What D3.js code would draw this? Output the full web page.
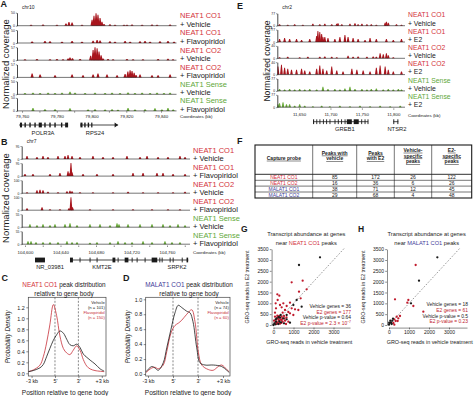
<!DOCTYPE html>
<html><head><meta charset="utf-8">
<script src="https://cdn.jsdelivr.net/npm/d3@7"></script>
<style>body{margin:0;background:#fff}svg{display:block}text{font-family:'Liberation Sans',Arial,Helvetica,sans-serif}</style>
</head><body><script>
// ---------------- DATA ----------------
// Panel A (chr10) coverage peaks: [coordinate kb, normalized coverage]
const A_PROBES = ["NEAT1 CO1","NEAT1 CO1","NEAT1 CO2","NEAT1 CO2","NEAT1 Sense","NEAT1 Sense"];
const A_CONDS = ["+ Vehicle","+ Flavopiridol","+ Vehicle","+ Flavopiridol","+ Vehicle","+ Flavopiridol"];
const A_MAX = [50,50,57,57,50,50];
const A_TICKS = [79760,79770,79780,79790,79800,79810,79820,79830,79840];
const A_TICK_LABELS = [79760,79780,79800,79820,79840];
const A1 = [[79765.2,4],[79772.1,5],[79780.1,4],[79785.3,8],[79787,14],[79788.8,12],[79794.5,4],[79800.3,23],[79801.4,38],[79802.6,48],[79803.7,42],[79804.9,30],[79806,15],[79807.2,7],[79810.6,6],[79813.5,4],[79818.7,4],[79820.4,4],[79823.3,5],[79829.1,4],[79834.8,5],[79837.7,4],[79845.2,5]];
const A2 = [[79765.8,6],[79773.2,8],[79776.1,7],[79783,5],[79788.8,8],[79794.5,5],[79800.9,9],[79803.2,12],[79804.9,10],[79810.6,7],[79813.5,5],[79819.3,8],[79822.2,5],[79827.9,7],[79830.8,8],[79833.7,5],[79839.4,7],[79844,8],[79847.5,5]];
const A3 = [[79761.7,4],[79768.6,5],[79776.1,4],[79780.1,5],[79783.6,4],[79786.5,8],[79787.6,12],[79789,9],[79793.4,5],[79799.5,20],[79800.9,45],[79802,57],[79803.2,52],[79804.3,38],[79805.5,22],[79806.6,8],[79809.5,5],[79812.4,4],[79820.4,5],[79823.9,4],[79829.6,4],[79838.3,5],[79844,6],[79846.9,4]];
const A4 = [[79765.8,17],[79770.4,13],[79779,9],[79788.8,13],[79795.1,9],[79800.9,13],[79803.7,17],[79808.9,13],[79814.7,9],[79819.3,15],[79820.9,26],[79822.2,31],[79823.3,28],[79824.5,20],[79825.6,10],[79827.9,13],[79834.8,9],[79838.3,9],[79845.2,13]];
const A5 = [[79761.7,5],[79766.3,6],[79770.4,5],[79775,6],[79779,5],[79783,6],[79787.6,10],[79790.5,6],[79796.3,5],[79802,6],[79807.8,5],[79811.8,6],[79816.4,5],[79821,7],[79825,5],[79829.1,6],[79833.7,5],[79837.7,6],[79841.7,5],[79845.2,6]];
const A6 = [[79766.3,11],[79773.2,6],[79779,6],[79787.6,10],[79798,5],[79802,6],[79807.8,5],[79811.8,6],[79815.2,4],[79821,11],[79825,5],[79830.8,6],[79836.5,10],[79840.5,5],[79844,11],[79847,5]];
const A_PEAKS = [A1,A2,A3,A4,A5,A6];
const A_GENES = [
  {name:"POLR3A", start:79758.3, end:79786.5, labelAt:79772.1, arrow:null,
   exons:[[79758.8,79760],[79761.4,79762.2],[79764.2,79765],[79767.1,79767.9],[79769.6,79771.4],[79772.8,79773.6],[79775.7,79776.5],[79778.6,79779.4],[79782.4,79783.2],[79784.8,79786.5]]},
  {name:"RPS24", start:79793.4, end:79815.3, labelAt:79802, arrow:79815.3,
   exons:[[79793.6,79794.8],[79795.8,79796.6],[79797.8,79798.6],[79799.8,79800.5]]}
];
// Panel B (chr7)
const B_PROBES = A_PROBES;
const B_CONDS = A_CONDS;
const B_MAX = [95,95,100,100,55,55];
const B_TICKS = [104600,104620,104640,104660,104680,104700,104720,104740,104760,104780];
const B_TICK_LABELS = [104600,104640,104680,104720,104760];
const B1 = [[104602.3,22],[104613.5,15],[104620.3,22],[104625.9,15],[104637.2,22],[104645.1,22],[104648.5,29],[104653,22],[104662,15],[104676.6,22],[104687.9,15],[104699.2,15],[104714.9,22],[104729.6,15],[104737.5,22],[104749.9,15],[104761.1,15],[104774.6,22],[104780.3,15]];
const B2 = [[104600,15],[104609,15],[104628.2,15],[104639.4,22],[104648.5,36],[104650.7,22],[104651.8,95],[104653,29],[104665.4,15],[104681.1,15],[104699.2,15],[104721.7,22],[104733,22],[104748.7,22],[104755.5,22],[104766.8,15],[104780.3,15]];
const B3 = [[104602.3,8],[104613.5,23],[104616.9,27],[104620.3,23],[104625.9,12],[104637.2,8],[104647.3,15],[104650.7,19],[104653,15],[104662,8],[104676.6,8],[104699.2,8],[104716.1,12],[104733,8],[104749.9,8],[104766.8,8],[104780.3,12]];
const B4 = [[104602.3,15],[104619.2,23],[104628.2,8],[104639.4,8],[104649.6,15],[104651.8,100],[104653.5,23],[104673.2,8],[104699.2,8],[104721.7,8],[104743.1,8],[104761.1,8],[104774.6,8]];
const B5 = [[104605.6,13],[104613.5,8],[104620.3,13],[104628.2,8],[104633.8,13],[104645.1,13],[104650.7,17],[104658.6,8],[104673.2,13],[104684.5,13],[104695.8,8],[104703.7,17],[104705.9,13],[104716.1,13],[104729.6,13],[104743.1,13],[104755.5,13],[104763.4,8],[104772.4,13],[104780.3,8]];
const B6 = [[104603.4,13],[104606.8,13],[104612.4,8],[104620.3,8],[104628.2,8],[104637.2,8],[104647.3,13],[104653,8],[104658.6,8],[104673.2,6],[104681.1,8],[104695.8,8],[104704.8,13],[104712.7,8],[104720.6,8],[104733,13],[104743.1,8],[104757.7,13],[104765.6,8],[104774.6,8]];
const B_PEAKS = [B1,B2,B3,B4,B5,B6];
const B_GENES = [
  {name:"NR_03981", start:104611.3, end:104622.5, labelAt:104628.2, arrow:null, exons:[[104611.3,104622.5]]},
  {name:"KMT2E", start:104650.7, end:104752, labelAt:104686.8, arrow:null,
   exons:[[104650.7,104654],[104661.5,104662.3],[104672.8,104673.6],[104680.7,104681.5],[104698.6,104701.8],[104704.4,104705.2],[104712.3,104716.5],[104720.2,104721],[104725.8,104726.6],[104734.8,104735.6],[104742.7,104749],[104751.4,104752.4]]},
  {name:"SRPK2", start:104752, end:104784, labelAt:104771.3, arrow:null,
   exons:[[104754,104754.8],[104763,104763.8],[104766.4,104767.2],[104776.6,104777.4],[104782,104783.8]]}
];
// Panel E (chr2)
const E_PROBES = A_PROBES;
const E_CONDS = ["+ Vehicle","+ E2","+ Vehicle","+ E2","+ Vehicle","+ E2"];
const E_MAX = [77,77,40,40,77,77];
const E_TICKS = [11650,11700,11750,11800];
const E_TICK_LABELS = [11650,11700,11750,11800];
const E1 = [[11619,9],[11632,6],[11643,9],[11656,6],[11672,12],[11683,9],[11691,12],[11702,9],[11710,12],[11712,15],[11718,9],[11731,12],[11739,15],[11744,9],[11750,12],[11758,9],[11765,9],[11773,6],[11787,19],[11789,25],[11792,19],[11805,9],[11813,6]];
const E2 = [[11619,19],[11627,25],[11635,19],[11646,19],[11654,12],[11667,19],[11678,37],[11680,68],[11683,62],[11686,50],[11688,31],[11691,31],[11696,25],[11707,19],[11715,31],[11723,43],[11728,31],[11736,25],[11744,19],[11755,12],[11763,25],[11773,19],[11789,19],[11800,12],[11813,19]];
const E3 = [[11619,3],[11632,5],[11651,3],[11664,5],[11683,5],[11691,6],[11702,5],[11710,3],[11728,8],[11736,5],[11744,6],[11758,5],[11768,6],[11773,5],[11779,16],[11784,13],[11789,16],[11792,10],[11800,3]];
const E4 = [[11616.5,26],[11622,32],[11627,22],[11632,19],[11638,16],[11646,16],[11654,19],[11659,13],[11667,10],[11678,19],[11683,29],[11688,19],[11694,13],[11702,26],[11710,13],[11720,10],[11734,19],[11742,16],[11752,13],[11763,10],[11773,22],[11779,29],[11787,26],[11792,16],[11800,10],[11813,10]];
const E5 = [[11619,12],[11627,9],[11635,12],[11643,9],[11651,12],[11659,9],[11667,12],[11678,9],[11688,25],[11696,12],[11707,12],[11715,9],[11723,15],[11731,25],[11739,12],[11750,12],[11758,9],[11765,12],[11773,15],[11784,9],[11792,12],[11800,9],[11808,12],[11813,9]];
const E6 = [[11616.5,19],[11619,25],[11624.5,31],[11630,19],[11635,19],[11643,9],[11651,19],[11659,9],[11672,6],[11686,9],[11699,6],[11715,9],[11731,6],[11747,9],[11763,6],[11779,9],[11795,6],[11811,9]];
const E_PEAKS = [E1,E2,E3,E4,E5,E6];
const E_GENES = [
  {name:"GREB1", start:11672.3, end:11760, labelAt:11722.9, arrow:null,
   exons:[[11672.3,11674],[11677.5,11678.5],[11682.5,11683.5],[11688,11689],[11693.2,11694.2],[11698.5,11699.5],[11706.5,11707.5],[11711.7,11712.7],[11717,11718],[11722.5,11723.5],[11726,11734],[11737,11745],[11749,11750],[11754.3,11755.3],[11759,11760]]},
  {name:"NTSR2", start:11800, end:11808, labelAt:11805.8, arrow:null, exons:[[11800,11801.5],[11806.5,11808]]}
];
// Panels C, D: density curves [position (0=-3kb,1=5',2=3',3=+3kb), density]
const POS_LABELS = ["-3 kb","5'","3'","+3 kb"];
const C_VEHICLE = [[-0.14,0.03],[0.07,0.05],[0.36,0.1],[0.5,0.16],[0.64,0.3],[0.78,0.45],[0.93,0.6],[1.07,0.7],[1.21,0.77],[1.36,0.73],[1.5,0.62],[1.64,0.52],[1.78,0.5],[1.93,0.53],[2.07,0.47],[2.21,0.35],[2.36,0.29],[2.5,0.24],[2.71,0.17],[2.93,0.08],[3.1,0.04]];
const C_FLAVO = [[-0.14,0.03],[0.07,0.06],[0.36,0.15],[0.5,0.3],[0.64,0.55],[0.78,0.88],[0.93,1.25],[1.07,1.05],[1.21,0.68],[1.36,0.45],[1.5,0.37],[1.64,0.34],[1.78,0.42],[1.93,0.5],[2.07,0.42],[2.21,0.25],[2.36,0.13],[2.5,0.08],[2.71,0.05],[3.1,0.03]];
const D_VEHICLE = [[-0.08,0.03],[0.15,0.1],[0.28,0.08],[0.41,0.05],[0.61,0.15],[0.75,0.35],[0.92,0.6],[1.08,0.82],[1.21,0.92],[1.35,0.89],[1.55,0.84],[1.68,0.82],[1.8,0.7],[1.95,0.35],[2.08,0.15],[2.28,0.12],[2.61,0.12],[2.95,0.1],[3.15,0.05],[3.25,0.02]];
const D_FLAVO = [[-0.08,0.02],[0.15,0.08],[0.28,0.09],[0.41,0.07],[0.61,0.12],[0.75,0.3],[0.92,0.55],[1.08,0.65],[1.21,0.68],[1.35,0.72],[1.55,0.8],[1.75,0.86],[1.88,0.7],[2.01,0.3],[2.15,0.12],[2.41,0.06],[2.61,0.05],[2.81,0.1],[2.95,0.12],[3.15,0.06],[3.25,0.03]];
const C_N = ["(n = 101)","(n = 150)"];
const D_N = ["(n = 74)","(n = 60)"];
// Panel F table
const F_HEADERS = [["Capture probe"],["Peaks with","vehicle"],["Peaks","with E2"],["Vehicle-","specific","peaks"],["E2-","specific","peaks"]];
const F_PROBES = ["NEAT1 CO1","NEAT1 CO2","MALAT1 CO1","MALAT1 CO2"];
const F_VEH = [85,16,38,29];
const F_E2 = [172,36,71,68];
const F_VEH_SPEC = [26,6,12,4];
const F_E2_SPEC = [122,26,45,48];
// Panels G, H: [GRO-seq vehicle, GRO-seq E2]
const G_BLACK = [[2325,3124],[1275,2769],[992,923],[1158,1154],[658,462],[158,308],[325,338],[492,308],[125,154],[292,169],[375,123],[42,77],[92,31],[242,46],[0,0],[358,462],[658,262],[525,77],[825,108],[108,262],[258,369],[1408,846]];
const G_RED = [[908,1969],[1458,2046],[1275,1538],[1658,1646],[192,1415],[292,1354],[108,1000],[208,1154],[825,1031],[658,877],[408,815],[575,692],[742,600],[1242,692],[1358,1231],[908,769],[492,1000],[325,923],[992,462],[825,538],[458,569],[75,385],[242,262],[408,231],[575,200],[208,108],[458,154],[158,46],[325,62],[192,431],[292,415],[742,154],[625,46],[25,200],[408,385],[525,415],[1075,723],[75,569],[125,769],[150,150],[250,300],[350,250],[450,300],[300,100],[200,350],[120,250],[400,100],[550,300],[650,350],[100,120],[280,200]];
const H_BLACK = [[2417,3124],[1500,2046],[1100,1000],[167,200],[100,123],[33,77],[133,46],[0,15],[67,200],[200,292],[10,108]];
const H_RED = [[1333,2769],[300,1185],[967,1154],[917,1031],[1217,877],[1717,615],[383,385],[467,308],[267,262],[333,185],[217,92],[550,415],[433,185],[267,15]];
const SCATTER_TICKS_X = [0,1000,2000,3000];
const SCATTER_TICKS_Y = [0,500,1000,1500,2000,2500,3000,3500];
const G_STATS = ["Vehicle genes = 36","E2 genes = 177","Vehicle p-value = 0.64","E2 p-value = 2.3 × 10"];
const H_STATS = ["Vehicle genes = 18","E2 genes = 61","Vehicle p-value = 0.5","E2 p-value = 0.23"];

// ---------------- DRAWING ----------------
const RED_TXT = "#d3313b", RED_FILL = "#a8151d", GREEN_TXT = "#62a83a", GREEN_FILL = "#6aaa3a", BLUE = "#3f3c99", INK = "#1a1a1a";
const svg = d3.select("body").append("svg").attr("width",474).attr("height",396);

function text(x, y, s, o = {}) {
  const size = o.size || 6;
  const t = svg.append("text").attr("x", x).attr("y", y + size * 0.35)
    .attr("font-size", size).attr("fill", o.fill || INK).attr("text-anchor", o.anchor || "start");
  if (o.weight) t.attr("font-weight", o.weight);
  if (o.style) t.attr("font-style", o.style);
  if (o.deco) t.attr("text-decoration", o.deco);
  if (o.rotate) t.attr("transform", `rotate(-90,${x},${y})`);
  t.text(s);
  return t;
}
function rich(x, y, parts, o = {}) {
  const size = o.size || 6;
  const t = svg.append("text").attr("x", x).attr("y", y + size * 0.35)
    .attr("font-size", size).attr("text-anchor", o.anchor || "start");
  parts.forEach(p => t.append("tspan").attr("fill", p[1] || INK).text(p[0]));
  return t;
}
function styleAxis(ax, fs) {
  ax.attr("font-family", null).attr("font-size", null);
  ax.selectAll("text").attr("font-size", fs).attr("fill", INK);
  ax.selectAll("line,path").attr("stroke", INK).attr("stroke-width", 0.5);
}

function trackPanel(P) {
  const x = d3.scaleLinear().domain(P.domain).range([P.x0, P.x1]);
  const line = d3.line();
  P.peaks.forEach((pk, i) => {
    const tb = P.baselines[i];
    const y = d3.scaleLinear().domain([0, P.max[i]]).range([tb, tb - P.h]);
    const sense = P.probes[i].includes("Sense");
    const g = svg.append("g");
    g.selectAll("path").data(pk).join("path")
      .attr("d", d => line([[d[0] - P.w, 0], [d[0] - P.w * 0.3, d[1]], [d[0] + P.w * 0.3, d[1]], [d[0] + P.w, 0]]
        .map(p => [Math.max(P.x0, Math.min(P.x1, x(p[0]))), y(p[1])])) + "Z")
      .attr("fill", sense ? GREEN_FILL : RED_FILL);
    g.append("line").attr("x1", P.x0).attr("x2", P.x1).attr("y1", tb).attr("y2", tb)
      .attr("stroke", INK).attr("stroke-width", 0.6);
    const ax = g.append("g").attr("transform", `translate(${P.x0},0)`)
      .call(d3.axisLeft(y).tickValues([0, P.max[i]]).tickSize(1.2).tickSizeOuter(0).tickPadding(1).tickFormat(d3.format("d")));
    styleAxis(ax, 3.4);
    ax.select(".domain").attr("stroke-width", 0.8);
    text(P.labelX, tb + P.probeDy, P.probes[i], {size: P.fs, fill: sense ? GREEN_TXT : RED_TXT});
    text(P.labelX, tb + P.condDy, P.conds[i], {size: P.fs});
  });
  const ax = svg.append("g").attr("transform", `translate(0,${P.axisY})`)
    .call(d3.axisBottom(x).tickValues(P.ticks).tickSize(1.5).tickPadding(P.pad)
      .tickFormat(d => P.tickLabels.includes(d) ? d3.format(",")(d) : ""));
  ax.select(".domain").remove();
  styleAxis(ax, 4.4);
  text(P.labelX, P.coordY, "Coordinates (kb)", {size: 4.4});
  text(P.x0 + 5, P.chrY, P.chr, {size: 5});
  text(P.ylabX, P.ylabY, "Normalized coverage", {size: P.ylabFs, anchor: "middle", rotate: true});
  P.genes.forEach(gn => {
    svg.append("line").attr("x1", x(gn.start)).attr("x2", x(gn.end)).attr("y1", P.geneY).attr("y2", P.geneY)
      .attr("stroke", INK).attr("stroke-width", 0.8);
    svg.append("g").selectAll("rect").data(gn.exons).join("rect")
      .attr("x", d => x(d[0])).attr("width", d => Math.max(0.9, x(d[1]) - x(d[0])))
      .attr("y", P.geneY - 2.4).attr("height", 4.8).attr("fill", INK);
    if (gn.arrow) {
      const ax0 = x(gn.arrow);
      svg.append("path").attr("d", `M${ax0 - 3.5},${P.geneY - 2.6}L${ax0},${P.geneY}L${ax0 - 3.5},${P.geneY + 2.6}Z`).attr("fill", INK);
    }
    text(x(gn.labelAt), P.geneLabelY, gn.name, {size: 5.8, anchor: "middle"});
  });
}

trackPanel({domain:[79757.1,79848.9], x0:17, x1:176.5, baselines:[25.7,43,60.2,77.4,94.3,110.9], h:13,
  peaks:A_PEAKS, max:A_MAX, probes:A_PROBES, conds:A_CONDS, w:0.9, labelX:180, probeDy:-10.2, condDy:-1.6, fs:7.5,
  ticks:A_TICKS, tickLabels:A_TICK_LABELS, axisY:111.2, pad:2.3, coordY:116.5, chr:"chr10", chrY:6.8,
  ylabX:5.5, ylabY:64, ylabFs:9.5, genes:A_GENES, geneY:125, geneLabelY:133.3});
trackPanel({domain:[104596.3,104785.9], x0:21.7, x1:190, baselines:[159,176.1,193.2,210.2,227.2,244.2], h:13,
  peaks:B_PEAKS, max:B_MAX, probes:B_PROBES, conds:B_CONDS, w:1.6, labelX:193, probeDy:-9.1, condDy:-0.5, fs:7.5,
  ticks:B_TICKS, tickLabels:B_TICK_LABELS, axisY:245.5, pad:3.5, coordY:252, chr:"chr7", chrY:141,
  ylabX:5.5, ylabY:198, ylabFs:9.5, genes:B_GENES, geneY:260, geneLabelY:267});
trackPanel({domain:[11615.4,11818.6], x0:277.3, x1:405, baselines:[25.7,42,58.3,74.6,90.9,107.2], h:12.4,
  peaks:E_PEAKS, max:E_MAX, probes:E_PROBES, conds:E_CONDS, w:2.2, labelX:408, probeDy:-10.6, condDy:-2.5, fs:6.8,
  ticks:E_TICKS, tickLabels:E_TICK_LABELS, axisY:108.3, pad:3.3, coordY:115, chr:"chr2", chrY:7,
  ylabX:267, ylabY:61, ylabFs:8.6, genes:E_GENES, geneY:121.7, geneLabelY:128.5});

function density(P) {
  const x = d3.scaleLinear().domain(P.xdom).range([P.left, P.right]);
  const y = d3.scaleLinear().domain(P.ydom).range([P.bottom, P.top]);
  [1, 2].forEach(v => svg.append("line").attr("x1", x(v)).attr("x2", x(v)).attr("y1", P.top).attr("y2", P.bottom)
    .attr("stroke", "#555").attr("stroke-width", 0.7).attr("stroke-dasharray", "2,1.5"));
  const ln = d3.line().x(d => x(d[0])).y(d => y(d[1])).curve(d3.curveCatmullRom.alpha(0.5));
  svg.append("path").attr("d", ln(P.flavo)).attr("fill", "none").attr("stroke", "#c8303a").attr("stroke-width", 0.8);
  svg.append("path").attr("d", ln(P.veh)).attr("fill", "none").attr("stroke", "#1c1c1c").attr("stroke-width", 0.8);
  svg.append("rect").attr("x", P.left).attr("y", P.top).attr("width", P.right - P.left).attr("height", P.bottom - P.top)
    .attr("fill", "none").attr("stroke", "#444").attr("stroke-width", 0.7);
  const ay = svg.append("g").attr("transform", `translate(${P.left},0)`)
    .call(d3.axisLeft(y).tickValues(P.yticks).tickFormat(d3.format(".1f")).tickSize(2).tickPadding(1.5));
  ay.select(".domain").remove(); styleAxis(ay, 5.4);
  const axx = svg.append("g").attr("transform", `translate(0,${P.bottom})`)
    .call(d3.axisBottom(x).tickValues([0, 1, 2, 3]).tickFormat(i => POS_LABELS[i]).tickSize(2).tickPadding(1.5));
  axx.select(".domain").remove(); styleAxis(axx, 5.4);
  rich(P.titleX, 285, [[P.probe, P.probeColor], [" peak distribution"]], {size: 6.4, anchor: "middle"});
  text(P.titleX, 293.3, "relative to gene body", {size: 6.4, anchor: "middle"});
  text(P.xlabX, 392.5, "Position relative to gene body", {size: 6.6, anchor: "middle"});
  text(P.ylabX, 336.7, "Probability Density", {size: 6.4, anchor: "middle", rotate: true, style: "italic"});
  const lx = P.right - 1.2;
  text(lx, 302.3, "Vehicle", {size: 4.2, anchor: "end"});
  text(lx, 307.6, P.n[0], {size: 4.2, anchor: "end"});
  text(lx, 312.8, "Flavopiridol", {size: 4.2, anchor: "end", fill: "#c8303a"});
  text(lx, 318, P.n[1], {size: 4.2, anchor: "end", fill: "#c8303a"});
}
density({xdom:[-0.14,3.18], ydom:[-0.049,1.382], left:28.3, right:106, top:297.3, bottom:376,
  yticks:[0,0.2,0.4,0.6,0.8,1.0,1.2], veh:C_VEHICLE, flavo:C_FLAVO, probe:"NEAT1 CO1", probeColor:RED_TXT,
  titleX:64, xlabX:65, ylabX:8, n:C_N});
density({xdom:[-0.092,3.28], ydom:[-0.027,1.027], left:145.7, right:230, top:297.3, bottom:376,
  yticks:[0,0.2,0.4,0.6,0.8,1.0], veh:D_VEHICLE, flavo:D_FLAVO, probe:"MALAT1 CO1", probeColor:BLUE,
  titleX:189, xlabX:188, ylabX:128, n:D_N});

(function table() {
  const cx = [255, 312.7, 356.7, 394.3, 431.7, 471.7];
  const ry = [145, 174.3, 180.3, 186.1, 192, 198];
  const g = svg.append("g");
  cx.slice(1, -1).forEach(v => g.append("line").attr("x1", v).attr("x2", v).attr("y1", ry[0]).attr("y2", ry[5]).attr("stroke", INK).attr("stroke-width", 0.6));
  ry.slice(1, -1).forEach(v => g.append("line").attr("x1", cx[0]).attr("x2", cx[5]).attr("y1", v).attr("y2", v).attr("stroke", INK).attr("stroke-width", v === ry[1] ? 0.9 : 0.6));
  g.append("rect").attr("x", cx[0]).attr("y", ry[0]).attr("width", cx[5] - cx[0]).attr("height", ry[5] - ry[0])
    .attr("fill", "none").attr("stroke", INK).attr("stroke-width", 1.1);
  F_HEADERS.forEach((lines, c) => {
    const mid = (cx[c] + cx[c + 1]) / 2;
    const c0 = lines.length === 1 ? 158 : 155.8;
    lines.forEach((s, k) => text(mid, c0 + (k - (lines.length - 1) / 2) * 5.8, s, {size: 5.0, anchor: "middle", weight: "bold", deco: "underline"}));
  });
  const cols = [F_PROBES, F_VEH, F_E2, F_VEH_SPEC, F_E2_SPEC];
  F_PROBES.forEach((p, r) => {
    const cy = (ry[r + 1] + ry[r + 2]) / 2;
    cols.forEach((col, c) => {
      const mid = (cx[c] + cx[c + 1]) / 2;
      const fill = c === 0 ? (p.startsWith("NEAT1") ? RED_TXT : BLUE) : INK;
      text(mid, cy, String(col[r]), {size: 5.0, anchor: "middle", fill});
    });
  });
})();

function scatter(P) {
  const x = d3.scaleLinear().domain([0, 1000]).range([P.x0, P.x0 + 20]);
  const y = d3.scaleLinear().domain([0, 1000]).range([325, 325 - 21.67]);
  const top = 247, right = P.right;
  svg.append("line").attr("x1", x(0)).attr("y1", y(0)).attr("x2", x(y.invert(top) * 0.985)).attr("y2", y(y.invert(top) * 0.985))
    .attr("stroke", "#555").attr("stroke-width", 0.6).attr("stroke-dasharray", "1.6,1.6");
  svg.append("g").selectAll("circle").data(P.red).join("circle")
    .attr("cx", d => x(d[0])).attr("cy", d => y(d[1])).attr("r", 1.15).attr("fill", "#c01a2c");
  svg.append("g").selectAll("circle").data(P.black).join("circle")
    .attr("cx", d => x(d[0])).attr("cy", d => y(d[1])).attr("r", 1.15).attr("fill", "#1a1a1a");
  const yAxScale = y.copy().domain([0, 3500]).range([y(0), y(3500)]);
  const ay = svg.append("g").attr("transform", `translate(${P.yAxisX},0)`)
    .call(d3.axisLeft(yAxScale).tickValues(SCATTER_TICKS_Y).tickSize(1.8).tickSizeOuter(0).tickPadding(1.2).tickFormat(d3.format("d")));
  styleAxis(ay, 5);
  const xAxScale = d3.scaleLinear().domain([x.invert(P.x0 - 0.5), x.invert(right)]).range([P.x0 - 0.5, right]);
  const ax = svg.append("g").attr("transform", `translate(0,327.6)`)
    .call(d3.axisBottom(xAxScale).tickValues(SCATTER_TICKS_X).tickSize(1.8).tickSizeOuter(0).tickPadding(0.8).tickFormat(d3.format("d")));
  styleAxis(ax, 5);
  text(P.letterX, 229.3, P.letter, {size: 8.5, weight: "bold"});
  text(P.titleX, 234.3, "Transcript abundance at genes", {size: 5.7, anchor: "middle"});
  rich(P.titleX, 242.7, [["near "], [P.probe, P.probeColor], [" peaks"]], {size: 5.7, anchor: "middle"});
  text(P.titleX + 3, 342, "GRO-seq reads in vehicle treatment", {size: 5.4, anchor: "middle"});
  text(P.yLabX, 287, "GRO-seq reads in E2 treatment", {size: 5.2, anchor: "middle", rotate: true});
  const cols = [INK, "#c01a2c", INK, "#c01a2c"];
  P.stats.forEach((s, k) => {
    const t = text(P.statX, P.statY[k], s, {size: 4.9, anchor: "end", fill: cols[k]});
    if (P.sup && k === 3) t.append("tspan").attr("font-size", 3.4).attr("dy", -1.8).text("−7");
  });
}
scatter({x0:273.5, right:350, yAxisX:271.6, red:G_RED, black:G_BLACK, letter:"G", letterX:241, titleX:306.3,
  probe:"NEAT1 CO1", probeColor:RED_TXT, yLabX:247, stats:G_STATS, statX:351, statY:[306.3,312,317.6,323.2], sup:true});
scatter({x0:389, right:467, yAxisX:387, red:H_RED, black:H_BLACK, letter:"H", letterX:358, titleX:426.7,
  probe:"MALAT1 CO1", probeColor:BLUE, yLabX:363, stats:H_STATS, statX:468, statY:[304.5,310.2,315.9,321.6], sup:false});

text(0.5, 4, "A", {size: 9, weight: "bold"});
text(1, 142, "B", {size: 9, weight: "bold"});
text(1.5, 278.3, "C", {size: 9, weight: "bold"});
text(123, 278.3, "D", {size: 9, weight: "bold"});
text(237, 5.5, "E", {size: 9, weight: "bold"});
text(237, 141, "F", {size: 9, weight: "bold"});
</script></body></html>
